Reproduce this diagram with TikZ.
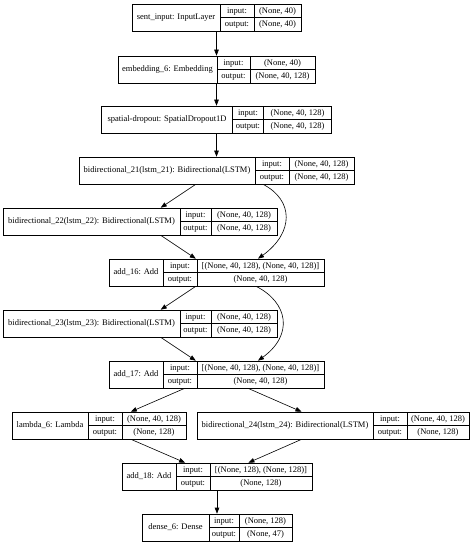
\documentclass[tikz,border=0pt]{standalone}
\usepackage{fontspec}
\setmainfont{Liberation Serif}
\usepackage{tikz}
\usetikzlibrary{arrows.meta,positioning,fit,calc}

% one keras layer: name | input:/output: | shapes
% #1 id, #2 left, #3 top, #4-#6 cell widths, #7 name, #8 input, #9 output
\newcommand{\kerasbox}[9]{%
  \node[namecell, minimum width=#4pt, anchor=north west] (#1-n) at (#2,-#3) {#7};
  \node[labcell, minimum width=#5pt, anchor=north west] (#1-il) at (#1-n.north east) {input:};
  \node[labcell, minimum width=#5pt, anchor=north west] (#1-ol) at (#1-il.south west) {output:};
  \node[labcell, minimum width=#6pt, anchor=north west] (#1-iv) at (#1-il.north east) {#8};
  \node[labcell, minimum width=#6pt, anchor=north west] (#1-ov) at (#1-ol.north east) {#9};
  \node[fit=(#1-n)(#1-iv)(#1-ov), inner sep=0pt] (#1) {};
}

\begin{document}
\begin{tikzpicture}[
  x=1pt, y=1pt,
  font=\fontsize{8.5}{10}\selectfont,
  line width=0.6pt,
  cell/.style={draw, inner sep=0pt, outer sep=0pt, text height=0.7em, text depth=0.22em, align=center},
  namecell/.style={cell, minimum height=27pt},
  labcell/.style={cell, minimum height=13.5pt},
  >={Triangle[length=6pt, width=4.5pt]},
]
\useasboundingbox (0,0) rectangle (474,-545);

\kerasbox{sent}{132}{4}{88}{34}{47}{sent\_input: InputLayer}{(None, 40)}{(None, 40)}
\kerasbox{emb}{118}{56}{99}{33}{65}{embedding\_6: Embedding}{(None, 40)}{(None, 40, 128)}
\kerasbox{spd}{101.5}{106}{131}{31}{68}{spatial-dropout: SpatialDropout1D}{(None, 40, 128)}{(None, 40, 128)}
\kerasbox{b21}{79}{157}{176}{34}{65}{bidirectional\_21(lstm\_21): Bidirectional(LSTM)}{(None, 40, 128)}{(None, 40, 128)}
\kerasbox{b22}{3}{208}{177}{31}{66}{bidirectional\_22(lstm\_22): Bidirectional(LSTM)}{(None, 40, 128)}{(None, 40, 128)}
\kerasbox{a16}{109}{259}{54}{34}{127}{add\_16: Add}{[(None, 40, 128), (None, 40, 128)]}{(None, 40, 128)}
\kerasbox{b23}{3}{310}{177}{31}{66}{bidirectional\_23(lstm\_23): Bidirectional(LSTM)}{(None, 40, 128)}{(None, 40, 128)}
\kerasbox{a17}{109}{361}{54}{34}{127}{add\_17: Add}{[(None, 40, 128), (None, 40, 128)]}{(None, 40, 128)}
\kerasbox{lam}{12}{412}{76}{34}{64}{lambda\_6: Lambda}{(None, 40, 128)}{(None, 128)}
\kerasbox{b24}{197}{412}{176}{34}{62}{bidirectional\_24(lstm\_24): Bidirectional(LSTM)}{(None, 40, 128)}{(None, 128)}
\kerasbox{a18}{122}{463}{54}{34}{102}{add\_18: Add}{[(None, 128), (None, 128)]}{(None, 128)}
\kerasbox{dns}{142}{514}{67}{30}{53}{dense\_6: Dense}{(None, 128)}{(None, 47)}

% edges
\draw[->] (sent) -- (emb);
\draw[->] (emb) -- (spd);
\draw[->] (spd) -- (b21);
\draw[->] (b21) -- (b22);
\draw[->] (b22) -- (a16);
\draw[->] ([xshift=46.5pt]b21.south) .. controls +(31,-16) and +(36,26) .. ([xshift=41.5pt]a16.north);
\draw[->] (a16) -- (b23);
\draw[->] (b23) -- (a17);
\draw[->] ([xshift=39.5pt]a16.south) .. controls +(32,-16) and +(36,26) .. ([xshift=41.5pt]a17.north);
\draw[->] (a17) -- (lam);
\draw[->] (a17) -- (b24);
\draw[->] (lam) -- (a18);
\draw[->] (b24) -- (a18);
\draw[->] (a18) -- (dns);
\end{tikzpicture}
\end{document}
